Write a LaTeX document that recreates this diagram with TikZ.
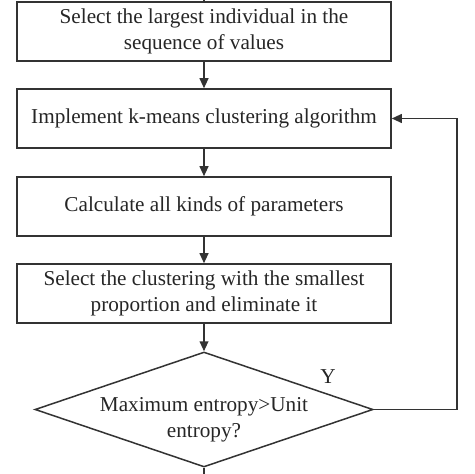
\documentclass[tikz,border=0pt]{standalone}
\usepackage{fontspec}
\setmainfont{Liberation Serif}
\usetikzlibrary{arrows.meta,shapes.geometric}
\begin{document}
\begin{tikzpicture}[x=0.5pt,y=-0.5pt,
  line width=0.75pt,
  every node/.style={text=black!85},
  box/.style={draw=black!80,rectangle,minimum width=187pt,minimum height=29.5pt,inner sep=0pt,align=center,font=\fontsize{10.6pt}{12.8pt}\selectfont},
  dia/.style={draw=black!80,diamond,minimum width=169pt,minimum height=57.5pt,inner sep=0pt},
  lbl/.style={font=\fontsize{10.6pt}{12.8pt}\selectfont,align=center,inner sep=0pt},
  arr/.style={draw=black!80,-{Triangle[length=5pt,width=4.4pt]}},
  ln/.style={draw=black!80}]
\useasboundingbox (0,0) rectangle (474,474);
\fill[white] (0,0) rectangle (474,474);
\node[box] (b1) at (204,31.5) {Select the largest individual in the\\sequence of values};
\node[box] (b2) at (204,118.5) {Implement k-means clustering algorithm};
\node[box] (b3) at (204,206.5) {Calculate all kinds of parameters};
\node[box] (b4) at (204,293.5) {Select the clustering with the smallest\\proportion and eliminate it};
\node[dia] (d) at (204,409.5) {};
\node[lbl] (dt) at (204,420) {Maximum entropy>Unit\\entropy?};
\node[lbl] (y) at (328,377) {Y};
\node[lbl] (n) at (331,483) {N};
\coordinate (top) at (204,-10);
\coordinate (bot) at (204,490);
\coordinate (loop) at (457,409.5);
\draw[ln] (top) -- (b1.north);
\draw[arr] (b1) -- (b2);
\draw[arr] (b2) -- (b3);
\draw[arr] (b3) -- (b4);
\draw[arr] (b4) -- (d.north);
\draw[arr] (d.east) -- (loop) |- (b2.east);
\draw[ln] (d.south) -- (bot);
\end{tikzpicture}
\end{document}
